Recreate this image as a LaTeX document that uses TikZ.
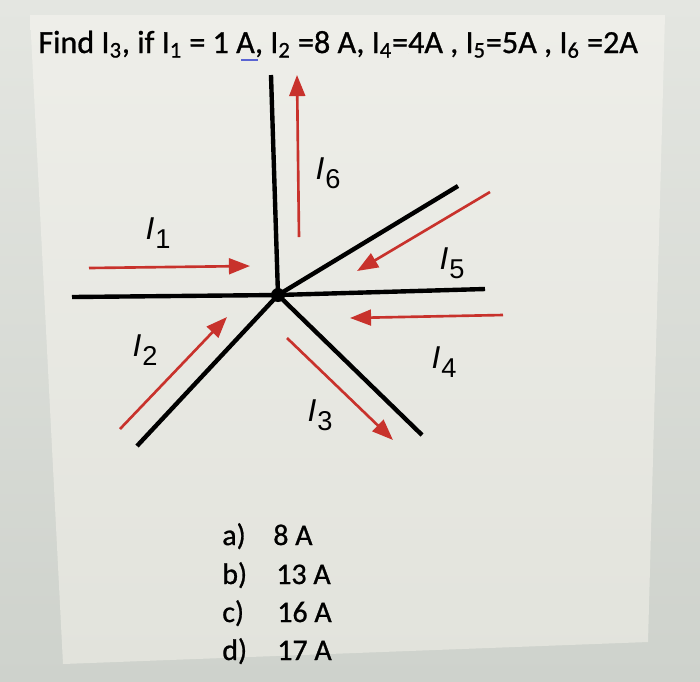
\documentclass[tikz,border=0pt]{standalone}
\usepackage{fontspec}
\setmainfont{Carlito}[BoldFont=Carlito,BoldFeatures={FakeBold=0.9}]
\newfontfamily\labelfont{Liberation Sans}
\usetikzlibrary{arrows.meta}
\definecolor{outertop}{RGB}{228,230,225}
\definecolor{outerbot}{RGB}{206,210,204}
\definecolor{paneltop}{RGB}{238,238,233}
\definecolor{panelbot}{RGB}{226,227,220}
\definecolor{arrowred}{RGB}{200,50,44}
\definecolor{spellblue}{RGB}{90,100,210}
\newcommand{\cur}[1]{\textit{I}\kern0.5pt\raisebox{-0.3em}{\fontsize{15.5}{15}\selectfont #1}}
\begin{document}
\begin{tikzpicture}[x=0.02cm,y=-0.02cm,
	wire/.style={line width=2.5pt,black},
	current/.style={line width=1.5pt,arrowred,-{Triangle[length=12pt,width=9pt]}},
	curlabel/.style={font=\labelfont\fontsize{18}{18}\selectfont,inner sep=0pt},
	answer/.style={anchor=base west,inner sep=0pt,font=\bfseries\fontsize{17}{17}\selectfont}]
	\useasboundingbox (0,0) rectangle (700,681);
	\shade[top color=outertop,bottom color=outerbot] (0,0) rectangle (700,681);
	\shade[top color=paneltop,bottom color=panelbot] (30,15) -- (665,15) -- (648,642) -- (63,664) -- cycle;
	\node (title) [anchor=base west,inner sep=0pt,font=\bfseries\fontsize{18.3}{19}\selectfont] at (38,53)
		{Find I\textsubscript{3}, if I\textsubscript{1} = 1 A, I\textsubscript{2} =8 A, I\textsubscript{4}=4A , I\textsubscript{5}=5A , I\textsubscript{6} =2A};
	\draw [spellblue,line width=1.2pt] (241,60) -- (258,60);
	% junction and wires
	\node (c) [circle,fill=black,inner sep=0pt,minimum size=14*0.02cm] at (278,295) {};
	\coordinate (top) at (271,75);
	\coordinate (left) at (72,297);
	\coordinate (right) at (485,289);
	\coordinate (upright) at (458,186);
	\coordinate (downleft) at (137,446);
	\coordinate (downright) at (422,435);
	\foreach \e in {top,left,right,upright,downleft,downright}
		\draw [wire] (c.center) -- (\e);
	% currents
	\coordinate (a6) at (299,237); \coordinate (b6) at (297,75);
	\coordinate (a1) at (89,268);  \coordinate (b1) at (250,266);
	\coordinate (a5) at (490,192); \coordinate (b5) at (357,271);
	\coordinate (a4) at (503,315); \coordinate (b4) at (350,318);
	\coordinate (a3) at (287,338); \coordinate (b3) at (393,440);
	\coordinate (a2) at (120,429); \coordinate (b2) at (227,317);
	\foreach \i in {1,...,6}
		\draw [current] (a\i) -- (b\i);
	\node (l6) [curlabel] at (328,173) {\cur{6}};
	\node (l1) [curlabel] at (158,233) {\cur{1}};
	\node (l5) [curlabel] at (452,263) {\cur{5}};
	\node (l4) [curlabel] at (444,362) {\cur{4}};
	\node (l3) [curlabel] at (320,415) {\cur{3}};
	\node (l2) [curlabel] at (145,350) {\cur{2}};
	% answers
	\node (qa) [answer] at (222,545) {a)};
	\node (qb) [answer] at (222,584) {b)};
	\node (qc) [answer] at (222,622) {c)};
	\node (qd) [answer] at (222,660) {d)};
	\node (va) [answer] at (273,545) {8 A};
	\node (vb) [answer] at (276,584) {13 A};
	\node (vc) [answer] at (277,622) {16 A};
	\node (vd) [answer] at (277,660) {17 A};
\end{tikzpicture}
\end{document}
